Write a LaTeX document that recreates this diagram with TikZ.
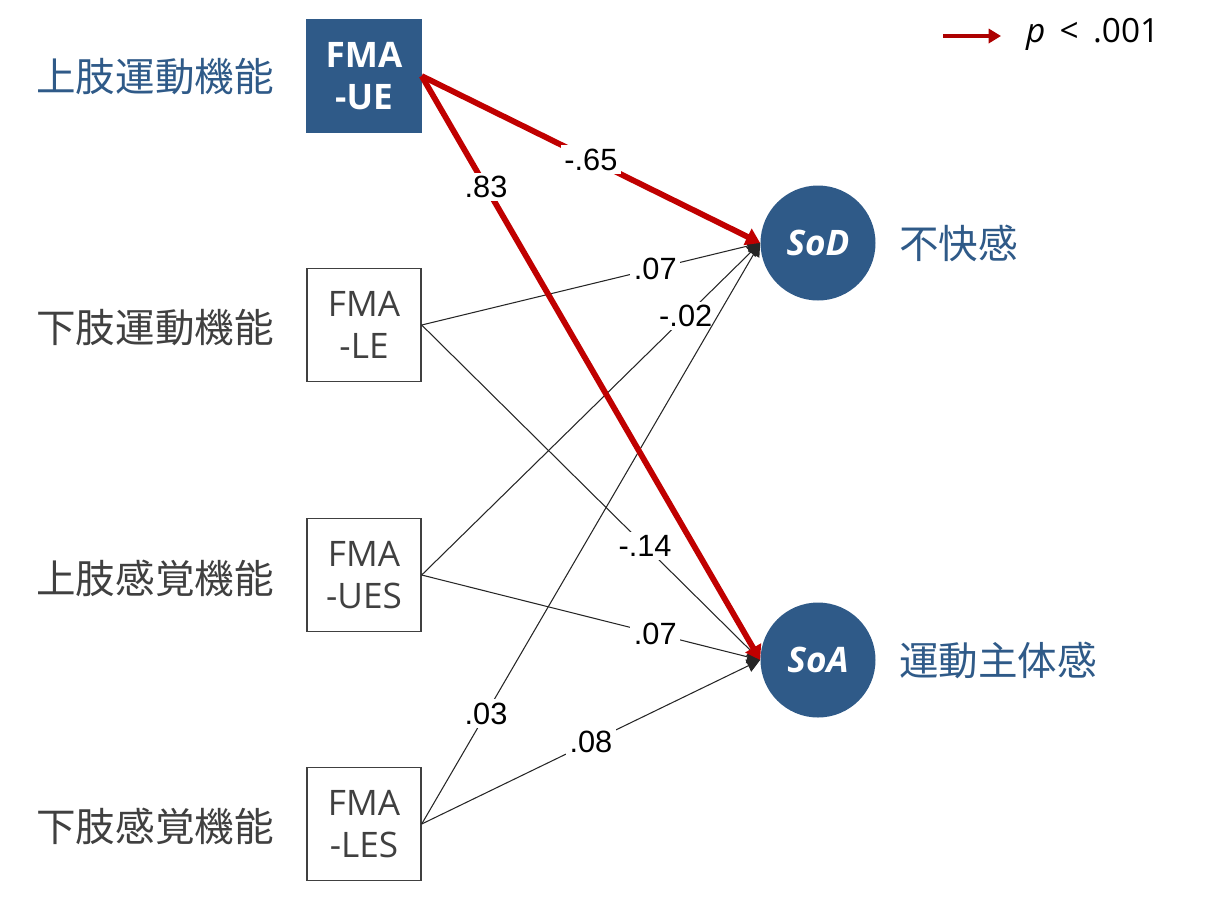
\documentclass[tikz,border=0pt]{standalone}
\usepackage{fontspec}
\setmainfont{Liberation Sans}
\newfontfamily\segoe{Open Sans}
\newfontfamily\jp{Noto Sans CJK JP}
\usetikzlibrary{arrows.meta}

\definecolor{semblue}{HTML}{2F5A88}
\definecolor{semred}{HTML}{C00000}
\definecolor{labgray}{HTML}{404040}

\tikzset{
  obsvar/.style={draw=labgray, line width=0.8pt, minimum width=2.28cm, minimum height=2.26cm,
    align=center, text=labgray, font=\segoe\fontsize{20}{24}\selectfont},
  obssig/.style={obsvar, fill=semblue, draw=semblue, text=white,
    font=\segoe\bfseries\fontsize{20}{24}\selectfont},
  latvar/.style={circle, fill=semblue, minimum size=2.3cm, inner sep=0pt, text=white,
    font=\segoe\bfseries\itshape\fontsize{20}{24}\selectfont},
  jplabel/.style={text=labgray, font=\jp\fontsize{22.5}{27}\selectfont},
  weakpath/.style={draw=black!85, line width=0.6pt, -{Triangle[length=7.5pt,width=7.5pt]}},
  strongpath/.style={draw=semred, line width=3.3pt, -{Triangle[length=8pt,width=10pt]}},
  coef/.style={fill=white, inner sep=2pt, font=\fontsize{17.5}{20}\selectfont}
}

\begin{document}
\begin{tikzpicture}[x=0.02cm, y=-0.02cm]
  \useasboundingbox (0,0) rectangle (1212,897);

  % Observed variables
  \node[obssig] (ue)  at (364,76)  {FMA\\-UE};
  \node[obsvar] (le)  at (364,325) {FMA\\-LE};
  \node[obsvar] (ues) at (364,575) {FMA\\-UES};
  \node[obsvar] (les) at (364,824) {FMA\\-LES};

  % Latent variables
  \node[latvar] (sod) at (818,243) {SoD};
  \node[latvar] (soa) at (818,660) {SoA};

  % Labels
  \node[jplabel, text=semblue] (uelab)  at (155,77)  {上肢運動機能};
  \node[jplabel] (lelab)  at (155,328) {下肢運動機能};
  \node[jplabel] (ueslab) at (155,578) {上肢感覚機能};
  \node[jplabel] (leslab) at (155,826) {下肢感覚機能};
  \node[jplabel, text=semblue, anchor=west] (sodlab) at (893,243) {不快感};
  \node[jplabel, text=semblue, anchor=west] (soalab) at (893,660) {運動主体感};

  % Non-significant paths
  \draw[weakpath] (le.east)  -- node[coef, pos=0.69] {.07}  (sod.west);
  \draw[weakpath] (ues.east) -- node[coef, pos=0.78] {-.02} (sod.west);
  \draw[weakpath] (les.east) -- node[coef, pos=0.19] {.03}  (sod.west);
  \draw[weakpath] (le.east)  -- node[coef, pos=0.66] {-.14} (soa.west);
  \draw[weakpath] (ues.east) -- node[coef, pos=0.69] {.07}  (soa.west);
  \draw[weakpath] (les.east) -- node[coef, pos=0.50] {.08}  (soa.west);

  % Significant paths
  \draw[strongpath] (ue.east) -- node[coef, pos=0.50] {-.65} (sod.west);
  \draw[strongpath] (ue.east) -- node[coef, pos=0.19] {.83}  (soa.west);

  % Legend
  \coordinate (legA) at (943,36);
  \coordinate (legB) at (1001,36);
  \draw[draw=semred!90!black, line width=2pt, -{Triangle[length=7pt,width=8pt]}] (legA) -- (legB);
  \node[anchor=west, font=\segoe\fontsize{19}{23}\selectfont] (legtext) at (1020,34) {\textit{p}\, <\, .001};
\end{tikzpicture}
\end{document}
